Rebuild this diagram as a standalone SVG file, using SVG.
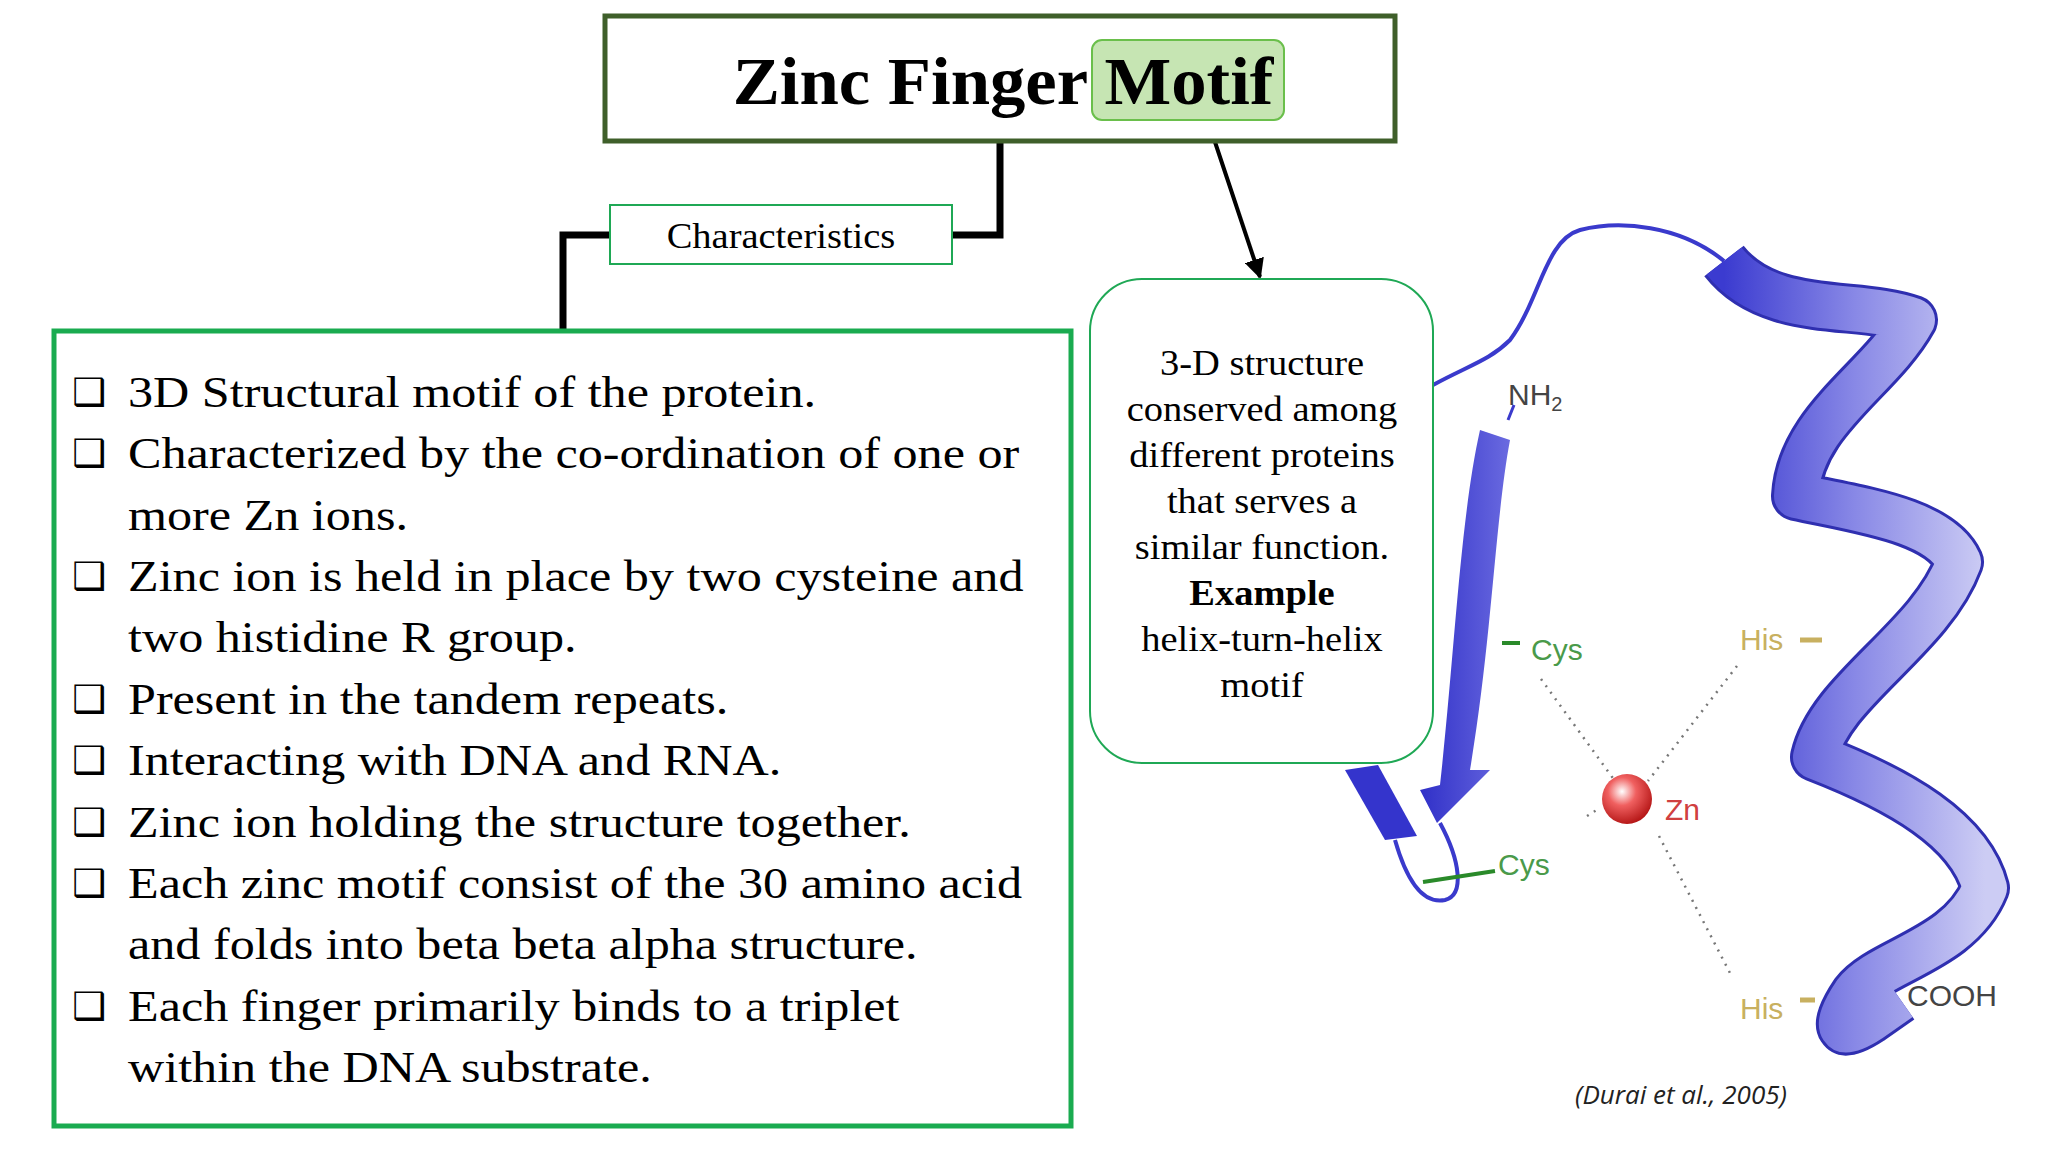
<svg xmlns="http://www.w3.org/2000/svg" width="2048" height="1152" viewBox="0 0 2048 1152">
<defs>
<style>
.serif{font-family:"Liberation Serif","Times New Roman",serif;fill:#000}
.bul{font-size:44px}
.box3{font-size:35px;text-anchor:middle}
.lab{font-family:"Liberation Sans",Arial,sans-serif;font-size:30px}
.conn{fill:none;stroke:#000;stroke-width:7}
.dot{stroke:#777;stroke-width:2.5;stroke-dasharray:2 6;fill:none}
.cb{font-family:"DejaVu Sans",sans-serif;font-size:38px;font-weight:bold}
</style>
<linearGradient id="hg" x1="0" y1="0" x2="1" y2="0"><stop offset="0" stop-color="#3b3bd0"/><stop offset="0.5" stop-color="#8888e6"/><stop offset="1" stop-color="#ccccf4"/></linearGradient>
<linearGradient id="bg" x1="0" y1="0" x2="1" y2="0"><stop offset="0" stop-color="#3030c8"/><stop offset="1" stop-color="#6a6ae0"/></linearGradient>
<radialGradient id="zn" cx="0.4" cy="0.35" r="0.7"><stop offset="0" stop-color="#fff"/><stop offset="0.4" stop-color="#f06060"/><stop offset="1" stop-color="#b01010"/></radialGradient>
<marker id="ah" viewBox="0 0 10 10" refX="9" refY="5" markerWidth="5" markerHeight="5" orient="auto"><path d="M0,0L10,5L0,10z" fill="#000"/></marker>
</defs>
<rect width="2048" height="1152" fill="#fff"/>
<g id="connectors">
<path class="conn" d="M1000,141V235H952"/>
<path class="conn" d="M610,235H563V330"/>
<path d="M1208,121L1260,277" stroke="#000" stroke-width="4" fill="none" marker-end="url(#ah)"/>
</g>
<g id="title">
<rect x="605" y="16" width="790" height="125" fill="#fff" stroke="#3f5f2a" stroke-width="5"/>
<rect x="1092" y="40" width="192" height="80" rx="10" fill="#c6e5b3" stroke="#6abf4b" stroke-width="2"/>
<text x="1003" y="104" class="serif" font-size="68" font-weight="bold" text-anchor="middle" transform="translate(1003,0) scale(1.04,1) translate(-1003,0)">Zinc Finger Motif</text>
</g>
<g id="characteristics">
<rect x="610" y="205" width="342" height="59" fill="#fff" stroke="#1fa855" stroke-width="2"/>
<text x="781" y="248" class="serif" font-size="35" text-anchor="middle" transform="translate(781,0) scale(1.1,1) translate(-781,0)">Characteristics</text>
</g>
<g id="list">
<rect x="54" y="331" width="1017" height="795" fill="#fff" stroke="#1aab50" stroke-width="5"/>
<g class="cb">
<text x="72" y="405">❑</text><text x="72" y="466">❑</text><text x="72" y="589">❑</text><text x="72" y="712">❑</text><text x="72" y="773">❑</text><text x="72" y="835">❑</text><text x="72" y="896">❑</text><text x="72" y="1019">❑</text>
</g>
<g class="serif bul" transform="translate(128,0) scale(1.14,1) translate(-128,0)">
<text x="128" y="407">3D Structural motif of the protein.</text>
<text x="128" y="468">Characterized by the co-ordination of one or</text>
<text x="128" y="530">more Zn ions.</text>
<text x="128" y="591">Zinc ion is held in place by two cysteine and</text>
<text x="128" y="652">two histidine R group.</text>
<text x="128" y="714">Present in the tandem repeats.</text>
<text x="128" y="775">Interacting with DNA and RNA.</text>
<text x="128" y="837">Zinc ion holding the structure together.</text>
<text x="128" y="898">Each zinc motif consist of the 30 amino acid</text>
<text x="128" y="959">and folds into beta beta alpha structure.</text>
<text x="128" y="1021">Each finger primarily binds to a triplet</text>
<text x="128" y="1082">within the DNA substrate.</text>
</g>
</g>
<g id="figure">
<path d="M1433,385C1470,365 1490,360 1510,340C1540,300 1545,240 1580,230C1620,220 1680,225 1724,261" fill="none" stroke="#3a3acc" stroke-width="4"/>
<path d="M1724,261C1770,320 1860,300 1913,320C1880,380 1800,420 1796,496C1860,510 1940,520 1959,562C1930,640 1830,690 1815,757C1900,790 1970,830 1985,888C1960,950 1880,960 1855,993C1830,1030 1840,1040 1870,1020L1900,999" fill="none" stroke="#2f2fb0" stroke-width="50" stroke-linejoin="round"/>
<path d="M1724,261C1770,320 1860,300 1913,320C1880,380 1800,420 1796,496C1860,510 1940,520 1959,562C1930,640 1830,690 1815,757C1900,790 1970,830 1985,888C1960,950 1880,960 1855,993C1830,1030 1840,1040 1870,1020L1900,999" fill="none" stroke="url(#hg)" stroke-width="44" stroke-linejoin="round"/>
<path d="M1345,770L1378,765L1417,836L1385,840Z" fill="#3434cc"/>
<path d="M1480,430L1510,440C1495,520 1492,640 1470,770L1490,770L1437,823L1420,790L1440,785C1455,650 1460,520 1480,430Z" fill="url(#bg)"/>
<path d="M1395,840C1405,875 1420,905 1445,900C1465,895 1460,860 1440,823" fill="none" stroke="#3a3acc" stroke-width="4"/>
<line x1="1508" y1="420" x2="1514" y2="405" stroke="#3a3acc" stroke-width="3"/>
<path d="M1502,643H1520M1423,882L1495,871" stroke="#2a8a2a" stroke-width="4"/>
<path d="M1800,640H1822M1800,1000H1815" stroke="#c8b060" stroke-width="5"/>
<path class="dot" d="M1541,679L1615,781M1737,666L1648,781M1659,836L1730,973M1587,816L1600,808"/>
<circle cx="1627" cy="799" r="25" fill="url(#zn)"/>
<text x="1508" y="405" class="lab" fill="#444">NH<tspan font-size="20" dy="6">2</tspan></text>
<text x="1531" y="660" class="lab" fill="#4a9a4a">Cys</text>
<text x="1498" y="875" class="lab" fill="#4a9a4a">Cys</text>
<text x="1740" y="650" class="lab" fill="#c8b060">His</text>
<text x="1740" y="1019" class="lab" fill="#c8b060">His</text>
<text x="1665" y="820" class="lab" fill="#d04040">Zn</text>
<text x="1907" y="1006" class="lab" fill="#444">COOH</text>
<text x="1681" y="1104" font-family="Open Sans,sans-serif" font-style="italic" font-size="26" text-anchor="middle" fill="#222">(Durai et al., 2005)</text>
</g>
<g id="definition">
<rect x="1090" y="279" width="343" height="484" rx="52" fill="#fff" stroke="#1fa855" stroke-width="2"/>
<g class="serif box3" transform="translate(1262,0) scale(1.1,1) translate(-1262,0)">
<text x="1262" y="375">3-D structure</text>
<text x="1262" y="421">conserved among</text>
<text x="1262" y="467">different proteins</text>
<text x="1262" y="513">that serves a</text>
<text x="1262" y="559">similar function.</text>
<text x="1262" y="605" font-weight="bold">Example</text>
<text x="1262" y="651">helix-turn-helix</text>
<text x="1262" y="697">motif</text>
</g>
</g>
</svg>
